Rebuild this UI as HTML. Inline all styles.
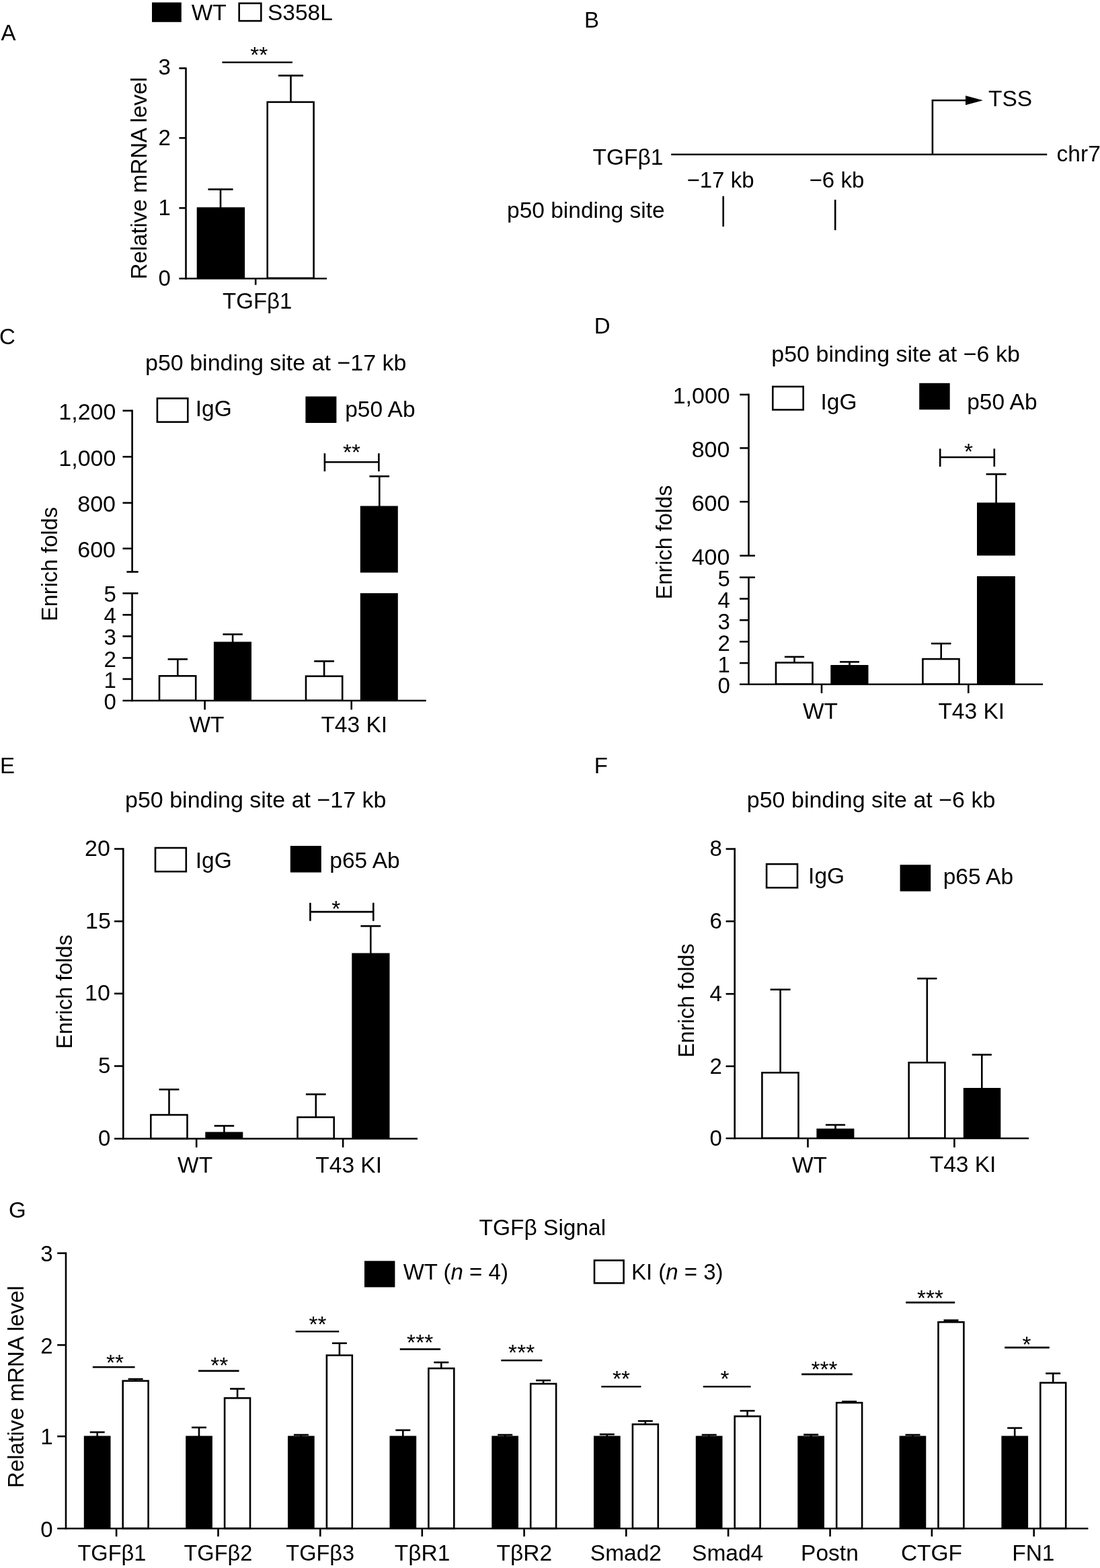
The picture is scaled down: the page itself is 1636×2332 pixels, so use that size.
<!DOCTYPE html>
<html><head><meta charset="utf-8"><title>Figure</title>
<style>
html,body{margin:0;padding:0;background:#fff;overflow:hidden;}
svg{display:block;}
text{font-family:"Liberation Sans",Arial,Helvetica,sans-serif;fill:#000;stroke:none;}
</style></head><body>
<svg width="1636" height="2332" viewBox="0 0 1636 2332">
<rect x="0" y="0" width="1636" height="2332" fill="#fff"/>
<g stroke="#000" fill="none">
<text x="1.4" y="60.0" font-size="33">A</text>
<rect x="226.0" y="3.6" width="43.8" height="29.2" fill="#000" stroke="none"/>
<text x="284.7" y="29.9" font-size="33.5">WT</text>
<rect x="355.7" y="4.9" width="32.6" height="26.2" fill="#fff" stroke-width="2.6"/>
<text x="398.0" y="29.9" font-size="33.5">S358L</text>
<line x1="276.5" y1="100.5" x2="276.5" y2="415.6" stroke-width="2.6"/>
<line x1="266.4" y1="101.5" x2="276.5" y2="101.5" stroke-width="2.6"/>
<line x1="266.4" y1="205.2" x2="276.5" y2="205.2" stroke-width="2.6"/>
<line x1="266.4" y1="309.4" x2="276.5" y2="309.4" stroke-width="2.6"/>
<line x1="266.4" y1="414.3" x2="486.0" y2="414.3" stroke-width="2.6"/>
<line x1="380.2" y1="414.3" x2="380.2" y2="423.7" stroke-width="2.6"/>
<text x="235.5" y="110.5" font-size="33">3</text>
<text x="235.5" y="216.2" font-size="33">2</text>
<text x="235.5" y="320.4" font-size="33">1</text>
<text x="235.5" y="425.3" font-size="33">0</text>
<text transform="translate(217.7,265.0) rotate(-90)" x="-150.5" y="0" font-size="33">Relative mRNA level</text>
<rect x="292.7" y="308.3" width="71.4" height="106.0" fill="#000" stroke="none"/>
<rect x="397.7" y="151.8" width="68.9" height="261.9" fill="#fff" stroke-width="2.6"/>
<line x1="328.0" y1="309.0" x2="328.0" y2="281.6" stroke-width="2.6"/>
<line x1="309.5" y1="281.6" x2="346.5" y2="281.6" stroke-width="2.6"/>
<line x1="432.5" y1="151.7" x2="432.5" y2="112.4" stroke-width="2.6"/>
<line x1="414.0" y1="112.4" x2="451.0" y2="112.4" stroke-width="2.6"/>
<line x1="330.4" y1="92.8" x2="434.9" y2="92.8" stroke-width="2.6"/>
<text x="372.3" y="93.0" font-size="33.5">**</text>
<text x="331.1" y="459.1" font-size="33">TGFβ1</text>
<text x="868.9" y="40.8" font-size="33">B</text>
<line x1="998.2" y1="229.8" x2="1557.2" y2="229.8" stroke-width="2.6"/>
<path d="M1386.9,229.8 V149.2 H1440" stroke-width="2.6"/>
<path d="M1436,142.2 L1462,149.2 L1436,156.2 Z" fill="#000" stroke="none"/>
<text x="1470.0" y="157.9" font-size="33.5">TSS</text>
<text x="881.6" y="245.0" font-size="33.5">TGFβ1</text>
<text x="1571.6" y="240.0" font-size="33.5">chr7</text>
<text x="1021.5" y="279.3" font-size="33">−17 kb</text>
<text x="1203.6" y="278.6" font-size="33">−6 kb</text>
<text x="754.0" y="324.0" font-size="33.5">p50 binding site</text>
<line x1="1075.7" y1="291.7" x2="1075.7" y2="337.0" stroke-width="2.6"/>
<line x1="1242.2" y1="297.0" x2="1242.2" y2="342.3" stroke-width="2.6"/>
<text x="-0.9" y="512.0" font-size="33">C</text>
<text x="216.0" y="551.0" font-size="34">p50 binding site at −17 kb</text>
<line x1="196.6" y1="609.5" x2="196.6" y2="850.5" stroke-width="2.6"/>
<line x1="182.5" y1="610.8" x2="196.6" y2="610.8" stroke-width="2.6"/>
<line x1="182.5" y1="679.3" x2="196.6" y2="679.3" stroke-width="2.6"/>
<line x1="182.5" y1="747.9" x2="196.6" y2="747.9" stroke-width="2.6"/>
<line x1="182.5" y1="815.8" x2="196.6" y2="815.8" stroke-width="2.6"/>
<line x1="188.4" y1="850.5" x2="205.7" y2="850.5" stroke-width="2.6"/>
<line x1="196.5" y1="882.4" x2="196.5" y2="1043.3" stroke-width="2.6"/>
<line x1="182.4" y1="882.4" x2="205.5" y2="882.4" stroke-width="2.6"/>
<line x1="182.4" y1="914.4" x2="196.5" y2="914.4" stroke-width="2.6"/>
<line x1="182.4" y1="946.3" x2="196.5" y2="946.3" stroke-width="2.6"/>
<line x1="182.4" y1="978.5" x2="196.5" y2="978.5" stroke-width="2.6"/>
<line x1="182.4" y1="1009.9" x2="196.5" y2="1009.9" stroke-width="2.6"/>
<line x1="182.4" y1="1042.0" x2="633.7" y2="1042.0" stroke-width="2.6"/>
<line x1="304.6" y1="1042.0" x2="304.6" y2="1055.5" stroke-width="2.6"/>
<line x1="522.7" y1="1042.0" x2="522.7" y2="1055.5" stroke-width="2.6"/>
<text x="87.3" y="624.3" font-size="34">1,200</text>
<text x="87.3" y="692.8" font-size="34">1,000</text>
<text x="115.3" y="761.4" font-size="34">800</text>
<text x="115.3" y="829.3" font-size="34">600</text>
<text x="154.5" y="895.4" font-size="33">5</text>
<text x="154.5" y="927.4" font-size="33">4</text>
<text x="154.5" y="959.3" font-size="33">3</text>
<text x="154.5" y="991.5" font-size="33">2</text>
<text x="154.5" y="1022.9" font-size="33">1</text>
<text x="154.5" y="1055.0" font-size="33">0</text>
<text transform="translate(84.7,837.9) rotate(-90)" x="-86.0" y="0" font-size="32.5">Enrich folds</text>
<rect x="233.9" y="592.5" width="45.4" height="35.1" fill="#fff" stroke-width="2.6"/>
<text x="290.7" y="619.0" font-size="33.5">IgG</text>
<rect x="454.4" y="589.6" width="46.0" height="39.4" fill="#000" stroke="none"/>
<text x="513.2" y="619.8" font-size="33.5">p50 Ab</text>
<rect x="237.0" y="1005.3" width="54.2" height="36.4" fill="#fff" stroke-width="2.6"/>
<line x1="264.3" y1="1005.1" x2="264.3" y2="980.4" stroke-width="2.6"/>
<line x1="249.6" y1="980.4" x2="279.0" y2="980.4" stroke-width="2.6"/>
<rect x="317.9" y="954.5" width="56.1" height="87.5" fill="#000" stroke="none"/>
<line x1="346.1" y1="955.0" x2="346.1" y2="943.4" stroke-width="2.6"/>
<line x1="331.4" y1="943.4" x2="360.8" y2="943.4" stroke-width="2.6"/>
<rect x="455.0" y="1005.7" width="54.2" height="36.0" fill="#fff" stroke-width="2.6"/>
<line x1="482.1" y1="1005.5" x2="482.1" y2="983.4" stroke-width="2.6"/>
<line x1="467.2" y1="983.4" x2="497.0" y2="983.4" stroke-width="2.6"/>
<rect x="535.8" y="882.2" width="56.0" height="159.8" fill="#000" stroke="none"/>
<rect x="535.8" y="752.5" width="56.0" height="99.1" fill="#000" stroke="none"/>
<line x1="564.3" y1="753.2" x2="564.3" y2="708.4" stroke-width="2.6"/>
<line x1="549.5" y1="708.4" x2="579.1" y2="708.4" stroke-width="2.6"/>
<line x1="482.9" y1="687.2" x2="563.4" y2="687.2" stroke-width="2.6"/>
<line x1="482.9" y1="674.2" x2="482.9" y2="701.1" stroke-width="2.6"/>
<line x1="563.4" y1="674.2" x2="563.4" y2="701.1" stroke-width="2.6"/>
<text x="510.0" y="684.0" font-size="33.5">**</text>
<text x="281.4" y="1089.0" font-size="33.5">WT</text>
<text x="477.4" y="1088.8" font-size="33.5">T43 KI</text>
<text x="883.8" y="495.5" font-size="33">D</text>
<text x="1147.3" y="538.0" font-size="34">p50 binding site at −6 kb</text>
<line x1="1113.5" y1="585.6" x2="1113.5" y2="826.4" stroke-width="2.6"/>
<line x1="1100.3" y1="586.9" x2="1113.5" y2="586.9" stroke-width="2.6"/>
<line x1="1100.3" y1="666.4" x2="1113.5" y2="666.4" stroke-width="2.6"/>
<line x1="1100.3" y1="746.2" x2="1113.5" y2="746.2" stroke-width="2.6"/>
<line x1="1100.3" y1="826.4" x2="1122.9" y2="826.4" stroke-width="2.6"/>
<line x1="1113.5" y1="858.7" x2="1113.5" y2="1019.0" stroke-width="2.6"/>
<line x1="1100.0" y1="858.7" x2="1122.9" y2="858.7" stroke-width="2.6"/>
<line x1="1100.0" y1="890.5" x2="1113.5" y2="890.5" stroke-width="2.6"/>
<line x1="1100.0" y1="922.3" x2="1113.5" y2="922.3" stroke-width="2.6"/>
<line x1="1100.0" y1="954.3" x2="1113.5" y2="954.3" stroke-width="2.6"/>
<line x1="1100.0" y1="986.1" x2="1113.5" y2="986.1" stroke-width="2.6"/>
<line x1="1100.0" y1="1017.7" x2="1551.0" y2="1017.7" stroke-width="2.6"/>
<line x1="1222.0" y1="1017.7" x2="1222.0" y2="1031.0" stroke-width="2.6"/>
<line x1="1440.3" y1="1017.7" x2="1440.3" y2="1031.0" stroke-width="2.6"/>
<text x="1000.7" y="600.4" font-size="34">1,000</text>
<text x="1028.7" y="679.9" font-size="34">800</text>
<text x="1028.7" y="759.7" font-size="34">600</text>
<text x="1028.7" y="839.9" font-size="34">400</text>
<text x="1067.6" y="872.2" font-size="33">5</text>
<text x="1067.6" y="904.0" font-size="33">4</text>
<text x="1067.6" y="935.8" font-size="33">3</text>
<text x="1067.6" y="967.8" font-size="33">2</text>
<text x="1067.6" y="999.6" font-size="33">1</text>
<text x="1067.6" y="1031.2" font-size="33">0</text>
<text transform="translate(998.9,805.4) rotate(-90)" x="-86.0" y="0" font-size="32.5">Enrich folds</text>
<rect x="1149.3" y="575.0" width="45.4" height="34.4" fill="#fff" stroke-width="2.6"/>
<text x="1220.5" y="609.2" font-size="33.5">IgG</text>
<rect x="1367.2" y="569.8" width="45.5" height="39.4" fill="#000" stroke="none"/>
<text x="1438.2" y="609.2" font-size="33.5">p50 Ab</text>
<rect x="1154.0" y="985.5" width="54.5" height="31.9" fill="#fff" stroke-width="2.6"/>
<line x1="1181.5" y1="985.3" x2="1181.5" y2="976.9" stroke-width="2.6"/>
<line x1="1166.9" y1="976.9" x2="1196.1" y2="976.9" stroke-width="2.6"/>
<rect x="1235.3" y="989.0" width="56.2" height="28.7" fill="#000" stroke="none"/>
<line x1="1263.5" y1="989.3" x2="1263.5" y2="984.4" stroke-width="2.6"/>
<line x1="1249.0" y1="984.4" x2="1278.0" y2="984.4" stroke-width="2.6"/>
<rect x="1372.4" y="980.1" width="54.1" height="37.3" fill="#fff" stroke-width="2.6"/>
<line x1="1399.7" y1="979.9" x2="1399.7" y2="957.1" stroke-width="2.6"/>
<line x1="1384.9" y1="957.1" x2="1414.5" y2="957.1" stroke-width="2.6"/>
<rect x="1453.0" y="857.0" width="56.8" height="160.7" fill="#000" stroke="none"/>
<rect x="1453.0" y="747.5" width="56.8" height="78.8" fill="#000" stroke="none"/>
<line x1="1481.6" y1="748.0" x2="1481.6" y2="705.2" stroke-width="2.6"/>
<line x1="1466.6" y1="705.2" x2="1496.6" y2="705.2" stroke-width="2.6"/>
<line x1="1398.2" y1="680.0" x2="1478.8" y2="680.0" stroke-width="2.6"/>
<line x1="1398.2" y1="667.3" x2="1398.2" y2="694.0" stroke-width="2.6"/>
<line x1="1478.8" y1="667.3" x2="1478.8" y2="694.0" stroke-width="2.6"/>
<text x="1434.1" y="682.5" font-size="33.5">*</text>
<text x="1194.0" y="1068.9" font-size="33.5">WT</text>
<text x="1395.4" y="1068.6" font-size="33.5">T43 KI</text>
<text x="0.0" y="1149.7" font-size="33">E</text>
<text x="186.0" y="1200.7" font-size="34">p50 binding site at −17 kb</text>
<line x1="183.3" y1="1261.2" x2="183.3" y2="1694.8" stroke-width="2.6"/>
<line x1="170.0" y1="1262.5" x2="183.3" y2="1262.5" stroke-width="2.6"/>
<line x1="170.0" y1="1370.2" x2="183.3" y2="1370.2" stroke-width="2.6"/>
<line x1="170.0" y1="1477.7" x2="183.3" y2="1477.7" stroke-width="2.6"/>
<line x1="170.0" y1="1585.5" x2="183.3" y2="1585.5" stroke-width="2.6"/>
<line x1="170.0" y1="1693.5" x2="621.0" y2="1693.5" stroke-width="2.6"/>
<line x1="292.2" y1="1693.5" x2="292.2" y2="1706.5" stroke-width="2.6"/>
<line x1="510.1" y1="1693.5" x2="510.1" y2="1706.5" stroke-width="2.6"/>
<text x="126.1" y="1273.0" font-size="34">20</text>
<text x="127.1" y="1380.7" font-size="34">15</text>
<text x="126.1" y="1488.2" font-size="34">10</text>
<text x="146.1" y="1596.3" font-size="33">5</text>
<text x="146.1" y="1704.3" font-size="33">0</text>
<text transform="translate(106.9,1473.9) rotate(-90)" x="-86.0" y="0" font-size="32.5">Enrich folds</text>
<rect x="231.0" y="1261.0" width="45.8" height="35.2" fill="#fff" stroke-width="2.6"/>
<text x="290.7" y="1290.8" font-size="33.5">IgG</text>
<rect x="431.8" y="1258.0" width="46.0" height="39.5" fill="#000" stroke="none"/>
<text x="490.3" y="1290.6" font-size="33.5">p65 Ab</text>
<rect x="224.3" y="1658.1" width="54.2" height="35.1" fill="#fff" stroke-width="2.6"/>
<line x1="251.5" y1="1658.0" x2="251.5" y2="1620.3" stroke-width="2.6"/>
<line x1="236.6" y1="1620.3" x2="266.4" y2="1620.3" stroke-width="2.6"/>
<rect x="305.3" y="1683.5" width="56.0" height="10.0" fill="#000" stroke="none"/>
<line x1="333.4" y1="1684.1" x2="333.4" y2="1674.4" stroke-width="2.6"/>
<line x1="318.6" y1="1674.4" x2="348.2" y2="1674.4" stroke-width="2.6"/>
<rect x="442.5" y="1661.6" width="54.2" height="31.6" fill="#fff" stroke-width="2.6"/>
<line x1="469.8" y1="1661.5" x2="469.8" y2="1627.5" stroke-width="2.6"/>
<line x1="454.9" y1="1627.5" x2="484.7" y2="1627.5" stroke-width="2.6"/>
<rect x="523.3" y="1417.5" width="56.2" height="276.0" fill="#000" stroke="none"/>
<line x1="551.3" y1="1418.0" x2="551.3" y2="1377.3" stroke-width="2.6"/>
<line x1="536.4" y1="1377.3" x2="566.2" y2="1377.3" stroke-width="2.6"/>
<line x1="461.4" y1="1356.1" x2="555.3" y2="1356.1" stroke-width="2.6"/>
<line x1="461.4" y1="1342.7" x2="461.4" y2="1369.7" stroke-width="2.6"/>
<line x1="555.3" y1="1342.7" x2="555.3" y2="1369.7" stroke-width="2.6"/>
<text x="493.2" y="1362.5" font-size="33.5">*</text>
<text x="264.1" y="1743.8" font-size="33.5">WT</text>
<text x="469.3" y="1743.9" font-size="33.5">T43 KI</text>
<text x="883.8" y="1149.7" font-size="33">F</text>
<text x="1110.8" y="1200.7" font-size="34">p50 binding site at −6 kb</text>
<line x1="1092.7" y1="1261.3" x2="1092.7" y2="1694.3" stroke-width="2.6"/>
<line x1="1079.6" y1="1262.6" x2="1092.7" y2="1262.6" stroke-width="2.6"/>
<line x1="1079.6" y1="1370.2" x2="1092.7" y2="1370.2" stroke-width="2.6"/>
<line x1="1079.6" y1="1478.2" x2="1092.7" y2="1478.2" stroke-width="2.6"/>
<line x1="1079.6" y1="1585.8" x2="1092.7" y2="1585.8" stroke-width="2.6"/>
<line x1="1079.6" y1="1693.0" x2="1530.0" y2="1693.0" stroke-width="2.6"/>
<line x1="1201.5" y1="1693.0" x2="1201.5" y2="1706.5" stroke-width="2.6"/>
<line x1="1419.4" y1="1693.0" x2="1419.4" y2="1706.5" stroke-width="2.6"/>
<text x="1055.5" y="1273.4" font-size="33">8</text>
<text x="1055.5" y="1381.0" font-size="33">6</text>
<text x="1055.5" y="1489.0" font-size="33">4</text>
<text x="1055.5" y="1596.6" font-size="33">2</text>
<text x="1055.5" y="1703.8" font-size="33">0</text>
<text transform="translate(1032.3,1487.1) rotate(-90)" x="-86.0" y="0" font-size="32.5">Enrich folds</text>
<rect x="1140.1" y="1285.1" width="45.9" height="35.1" fill="#fff" stroke-width="2.6"/>
<text x="1202.1" y="1314.0" font-size="33.5">IgG</text>
<rect x="1338.6" y="1286.1" width="45.6" height="39.5" fill="#000" stroke="none"/>
<text x="1402.7" y="1314.6" font-size="33.5">p65 Ab</text>
<rect x="1133.4" y="1595.3" width="54.1" height="97.4" fill="#fff" stroke-width="2.6"/>
<line x1="1160.6" y1="1595.1" x2="1160.6" y2="1471.7" stroke-width="2.6"/>
<line x1="1145.6" y1="1471.7" x2="1175.6" y2="1471.7" stroke-width="2.6"/>
<rect x="1214.4" y="1678.5" width="56.0" height="14.5" fill="#000" stroke="none"/>
<line x1="1242.5" y1="1679.0" x2="1242.5" y2="1673.0" stroke-width="2.6"/>
<line x1="1227.9" y1="1673.0" x2="1257.1" y2="1673.0" stroke-width="2.6"/>
<rect x="1351.7" y="1580.3" width="53.7" height="112.4" fill="#fff" stroke-width="2.6"/>
<line x1="1378.8" y1="1580.2" x2="1378.8" y2="1455.3" stroke-width="2.6"/>
<line x1="1364.2" y1="1455.3" x2="1393.4" y2="1455.3" stroke-width="2.6"/>
<rect x="1432.8" y="1618.0" width="55.5" height="75.0" fill="#000" stroke="none"/>
<line x1="1460.3" y1="1618.4" x2="1460.3" y2="1568.6" stroke-width="2.6"/>
<line x1="1445.7" y1="1568.6" x2="1474.9" y2="1568.6" stroke-width="2.6"/>
<text x="1177.9" y="1744.0" font-size="33.5">WT</text>
<text x="1382.7" y="1743.3" font-size="33.5">T43 KI</text>
<text x="12.9" y="1810.5" font-size="33">G</text>
<text x="712.5" y="1837.0" font-size="33.5">TGFβ Signal</text>
<rect x="542.0" y="1875.3" width="45.4" height="39.1" fill="#000" stroke="none"/>
<rect x="884.0" y="1874.5" width="43.6" height="33.8" fill="#fff" stroke-width="2.6"/>
<text x="599.7" y="1903.2" font-size="33">WT (<tspan font-style="italic">n</tspan> = 4)</text>
<text x="938.9" y="1903.0" font-size="33">KI (<tspan font-style="italic">n</tspan> = 3)</text>
<line x1="98.0" y1="1862.5" x2="98.0" y2="2274.6" stroke-width="2.6"/>
<line x1="85.2" y1="1863.8" x2="98.0" y2="1863.8" stroke-width="2.6"/>
<line x1="85.2" y1="2000.4" x2="98.0" y2="2000.4" stroke-width="2.6"/>
<line x1="85.2" y1="2136.2" x2="98.0" y2="2136.2" stroke-width="2.6"/>
<line x1="85.2" y1="2273.3" x2="1618.4" y2="2273.3" stroke-width="2.6"/>
<text x="60.3" y="1876.0" font-size="33">3</text>
<text x="60.3" y="2012.6" font-size="33">2</text>
<text x="60.3" y="2148.4" font-size="33">1</text>
<text x="60.3" y="2285.5" font-size="33">0</text>
<text transform="translate(34.8,2062.4) rotate(-90)" x="-150.5" y="0" font-size="33">Relative mRNA level</text>
<rect x="124.8" y="2135.5" width="39.7" height="137.8" fill="#000" stroke="none"/>
<line x1="144.7" y1="2136.2" x2="144.7" y2="2130.0" stroke-width="2.6"/>
<line x1="133.7" y1="2130.0" x2="155.7" y2="2130.0" stroke-width="2.6"/>
<rect x="182.7" y="2053.7" width="37.9" height="219.3" fill="#fff" stroke-width="2.6"/>
<line x1="201.6" y1="2053.0" x2="201.6" y2="2051.0" stroke-width="2.6"/>
<line x1="190.6" y1="2051.0" x2="212.6" y2="2051.0" stroke-width="2.6"/>
<line x1="137.8" y1="2033.2" x2="200.6" y2="2033.2" stroke-width="2.6"/>
<text x="158.0" y="2038.0" font-size="33.5">**</text>
<line x1="173.1" y1="2273.3" x2="173.1" y2="2285.2" stroke-width="2.6"/>
<text x="115.5" y="2320.5" font-size="32.5">TGFβ1</text>
<rect x="276.2" y="2135.5" width="39.7" height="137.8" fill="#000" stroke="none"/>
<line x1="296.0" y1="2136.2" x2="296.0" y2="2123.0" stroke-width="2.6"/>
<line x1="285.0" y1="2123.0" x2="307.0" y2="2123.0" stroke-width="2.6"/>
<rect x="334.1" y="2079.3" width="37.9" height="193.7" fill="#fff" stroke-width="2.6"/>
<line x1="353.1" y1="2078.6" x2="353.1" y2="2065.5" stroke-width="2.6"/>
<line x1="342.1" y1="2065.5" x2="364.1" y2="2065.5" stroke-width="2.6"/>
<line x1="295.0" y1="2038.9" x2="355.6" y2="2038.9" stroke-width="2.6"/>
<text x="313.3" y="2041.7" font-size="33.5">**</text>
<line x1="324.5" y1="2273.3" x2="324.5" y2="2285.2" stroke-width="2.6"/>
<text x="273.5" y="2320.5" font-size="32.5">TGFβ2</text>
<rect x="428.0" y="2135.5" width="39.7" height="137.8" fill="#000" stroke="none"/>
<line x1="447.9" y1="2136.2" x2="447.9" y2="2134.0" stroke-width="2.6"/>
<line x1="436.9" y1="2134.0" x2="458.9" y2="2134.0" stroke-width="2.6"/>
<rect x="485.9" y="2015.7" width="37.9" height="257.3" fill="#fff" stroke-width="2.6"/>
<line x1="504.9" y1="2015.0" x2="504.9" y2="1997.7" stroke-width="2.6"/>
<line x1="493.9" y1="1997.7" x2="515.9" y2="1997.7" stroke-width="2.6"/>
<line x1="439.6" y1="1980.3" x2="504.2" y2="1980.3" stroke-width="2.6"/>
<text x="459.5" y="1981.4" font-size="33.5">**</text>
<line x1="476.3" y1="2273.3" x2="476.3" y2="2285.2" stroke-width="2.6"/>
<text x="425.3" y="2320.5" font-size="32.5">TGFβ3</text>
<rect x="579.5" y="2135.5" width="39.7" height="137.8" fill="#000" stroke="none"/>
<line x1="599.3" y1="2136.2" x2="599.3" y2="2127.0" stroke-width="2.6"/>
<line x1="588.3" y1="2127.0" x2="610.3" y2="2127.0" stroke-width="2.6"/>
<rect x="637.4" y="2035.1" width="37.9" height="237.9" fill="#fff" stroke-width="2.6"/>
<line x1="656.3" y1="2034.4" x2="656.3" y2="2026.2" stroke-width="2.6"/>
<line x1="645.3" y1="2026.2" x2="667.3" y2="2026.2" stroke-width="2.6"/>
<line x1="594.8" y1="2006.6" x2="655.1" y2="2006.6" stroke-width="2.6"/>
<text x="605.1" y="2008.2" font-size="33.5">***</text>
<line x1="627.8" y1="2273.3" x2="627.8" y2="2285.2" stroke-width="2.6"/>
<text x="586.8" y="2320.5" font-size="33.5">TβR1</text>
<rect x="731.3" y="2135.5" width="39.7" height="137.8" fill="#000" stroke="none"/>
<line x1="751.2" y1="2136.2" x2="751.2" y2="2134.0" stroke-width="2.6"/>
<line x1="740.2" y1="2134.0" x2="762.2" y2="2134.0" stroke-width="2.6"/>
<rect x="789.2" y="2058.0" width="37.9" height="215.0" fill="#fff" stroke-width="2.6"/>
<line x1="808.1" y1="2057.3" x2="808.1" y2="2053.0" stroke-width="2.6"/>
<line x1="797.1" y1="2053.0" x2="819.1" y2="2053.0" stroke-width="2.6"/>
<line x1="745.3" y1="2023.2" x2="806.4" y2="2023.2" stroke-width="2.6"/>
<text x="756.1" y="2023.0" font-size="33.5">***</text>
<line x1="779.6" y1="2273.3" x2="779.6" y2="2285.2" stroke-width="2.6"/>
<text x="738.6" y="2320.5" font-size="33.5">TβR2</text>
<rect x="883.0" y="2135.5" width="39.7" height="137.8" fill="#000" stroke="none"/>
<line x1="902.8" y1="2136.2" x2="902.8" y2="2133.2" stroke-width="2.6"/>
<line x1="891.8" y1="2133.2" x2="913.8" y2="2133.2" stroke-width="2.6"/>
<rect x="940.9" y="2118.3" width="37.9" height="154.7" fill="#fff" stroke-width="2.6"/>
<line x1="959.8" y1="2117.6" x2="959.8" y2="2113.4" stroke-width="2.6"/>
<line x1="948.8" y1="2113.4" x2="970.8" y2="2113.4" stroke-width="2.6"/>
<line x1="894.3" y1="2062.2" x2="953.4" y2="2062.2" stroke-width="2.6"/>
<text x="910.9" y="2061.6" font-size="33.5">**</text>
<line x1="931.3" y1="2273.3" x2="931.3" y2="2285.2" stroke-width="2.6"/>
<text x="877.8" y="2320.5" font-size="33.5">Smad2</text>
<rect x="1034.8" y="2135.5" width="39.7" height="137.8" fill="#000" stroke="none"/>
<line x1="1054.7" y1="2136.2" x2="1054.7" y2="2134.0" stroke-width="2.6"/>
<line x1="1043.7" y1="2134.0" x2="1065.7" y2="2134.0" stroke-width="2.6"/>
<rect x="1092.7" y="2106.4" width="37.9" height="166.6" fill="#fff" stroke-width="2.6"/>
<line x1="1111.6" y1="2105.7" x2="1111.6" y2="2098.2" stroke-width="2.6"/>
<line x1="1100.6" y1="2098.2" x2="1122.6" y2="2098.2" stroke-width="2.6"/>
<line x1="1045.8" y1="2062.2" x2="1116.6" y2="2062.2" stroke-width="2.6"/>
<text x="1071.5" y="2061.6" font-size="33.5">*</text>
<line x1="1083.1" y1="2273.3" x2="1083.1" y2="2285.2" stroke-width="2.6"/>
<text x="1029.1" y="2320.5" font-size="33.5">Smad4</text>
<rect x="1186.3" y="2135.5" width="39.7" height="137.8" fill="#000" stroke="none"/>
<line x1="1206.2" y1="2136.2" x2="1206.2" y2="2133.7" stroke-width="2.6"/>
<line x1="1195.2" y1="2133.7" x2="1217.2" y2="2133.7" stroke-width="2.6"/>
<rect x="1244.2" y="2086.2" width="37.9" height="186.8" fill="#fff" stroke-width="2.6"/>
<line x1="1263.1" y1="2085.5" x2="1263.1" y2="2084.5" stroke-width="2.6"/>
<line x1="1252.1" y1="2084.5" x2="1274.1" y2="2084.5" stroke-width="2.6"/>
<line x1="1192.1" y1="2043.9" x2="1267.8" y2="2043.9" stroke-width="2.6"/>
<text x="1206.5" y="2048.0" font-size="33.5">***</text>
<line x1="1234.6" y1="2273.3" x2="1234.6" y2="2285.2" stroke-width="2.6"/>
<text x="1191.1" y="2320.5" font-size="33.5">Postn</text>
<rect x="1337.6" y="2135.5" width="39.7" height="137.8" fill="#000" stroke="none"/>
<line x1="1357.5" y1="2136.2" x2="1357.5" y2="2134.0" stroke-width="2.6"/>
<line x1="1346.5" y1="2134.0" x2="1368.5" y2="2134.0" stroke-width="2.6"/>
<rect x="1395.5" y="1966.3" width="37.9" height="306.7" fill="#fff" stroke-width="2.6"/>
<line x1="1414.5" y1="1965.6" x2="1414.5" y2="1963.6" stroke-width="2.6"/>
<line x1="1403.5" y1="1963.6" x2="1425.5" y2="1963.6" stroke-width="2.6"/>
<line x1="1347.2" y1="1937.1" x2="1420.2" y2="1937.1" stroke-width="2.6"/>
<text x="1364.0" y="1941.9" font-size="33.5">***</text>
<line x1="1385.9" y1="2273.3" x2="1385.9" y2="2285.2" stroke-width="2.6"/>
<text x="1339.9" y="2320.5" font-size="33.5">CTGF</text>
<rect x="1489.4" y="2135.5" width="39.7" height="137.8" fill="#000" stroke="none"/>
<line x1="1509.2" y1="2136.2" x2="1509.2" y2="2123.8" stroke-width="2.6"/>
<line x1="1498.2" y1="2123.8" x2="1520.2" y2="2123.8" stroke-width="2.6"/>
<rect x="1547.3" y="2056.5" width="37.9" height="216.5" fill="#fff" stroke-width="2.6"/>
<line x1="1566.2" y1="2055.8" x2="1566.2" y2="2042.6" stroke-width="2.6"/>
<line x1="1555.2" y1="2042.6" x2="1577.2" y2="2042.6" stroke-width="2.6"/>
<line x1="1494.2" y1="2004.1" x2="1560.8" y2="2004.1" stroke-width="2.6"/>
<text x="1520.4" y="2011.4" font-size="33.5">*</text>
<line x1="1537.7" y1="2273.3" x2="1537.7" y2="2285.2" stroke-width="2.6"/>
<text x="1505.2" y="2320.5" font-size="33.5">FN1</text>
</g>
</svg>
</body></html>
